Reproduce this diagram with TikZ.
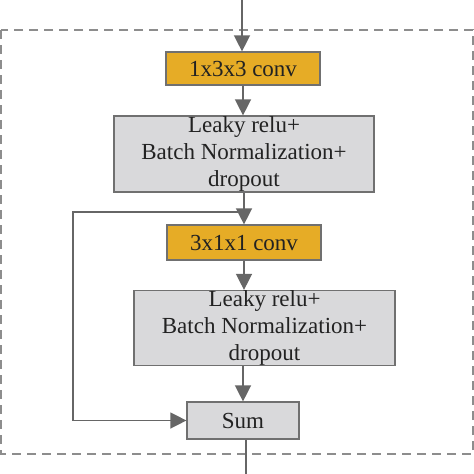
\documentclass[tikz,border=0pt]{standalone}
\usepackage{fontspec}
\setmainfont{Liberation Serif}
\usetikzlibrary{arrows.meta}
\definecolor{convorange}{HTML}{E6AC26}
\definecolor{boxgray}{HTML}{D9D9DB}
\definecolor{linegray}{HTML}{666666}
\definecolor{edgegray}{HTML}{707070}
\definecolor{textdark}{HTML}{222222}
\begin{document}
\begin{tikzpicture}[x=1pt,y=-1pt,
  convbox/.style={draw=edgegray, line width=1.2pt, fill=convorange, inner sep=0pt, text=textdark, font=\fontsize{23}{27}\selectfont},
  graybox/.style={draw=edgegray, line width=1.2pt, fill=boxgray, inner sep=0pt, align=center, text=textdark, font=\fontsize{23}{27}\selectfont},
  conn/.style={draw=linegray, line width=1.4pt, -{Triangle[width=16pt,length=16pt]}},
  plain/.style={draw=linegray, line width=1.4pt}]
\useasboundingbox (0,0) rectangle (474,474);
\clip (0,0) rectangle (474,474);
\draw[edgegray!80, line width=1.3pt, dash pattern=on 9pt off 6pt] (1,30) rectangle (473,454);
\node[convbox, minimum width=154pt, minimum height=33pt] (c1) at (243,68.5) {1x3x3 conv};
\node[graybox, minimum width=260pt, minimum height=76pt] (g1) at (244,154) {Leaky relu+\\Batch Normalization+\\dropout};
\node[convbox, minimum width=154pt, minimum height=35pt] (c2) at (244,242.5) {3x1x1 conv};
\node[graybox, minimum width=261pt, minimum height=75pt] (g2) at (264.5,328) {Leaky relu+\\Batch Normalization+\\dropout};
\node[graybox, minimum width=112pt, minimum height=37pt] (s) at (243,420.5) {Sum};
\coordinate (top) at (242,0);
\coordinate (bot) at (246,496);
\coordinate (split) at (243,212);
\coordinate (corner1) at (73,212);
\coordinate (corner2) at (73,420.5);
\draw[conn] (top) -- (top |- c1.north);
\draw[conn] (c1.south) -- (c1.south |- g1.north);
\draw[conn] (g1.south) -- (c2.north);
\draw[conn] (c2.south) -- (c2.south |- g2.north);
\draw[conn] (g2.south -| s.north) -- (s.north);
\draw[plain] (split) -- (corner1) -- (corner2);
\draw[conn] (corner2) -- (s.west);
\draw[conn] (s.south -| bot) -- (bot);
\end{tikzpicture}
\end{document}
